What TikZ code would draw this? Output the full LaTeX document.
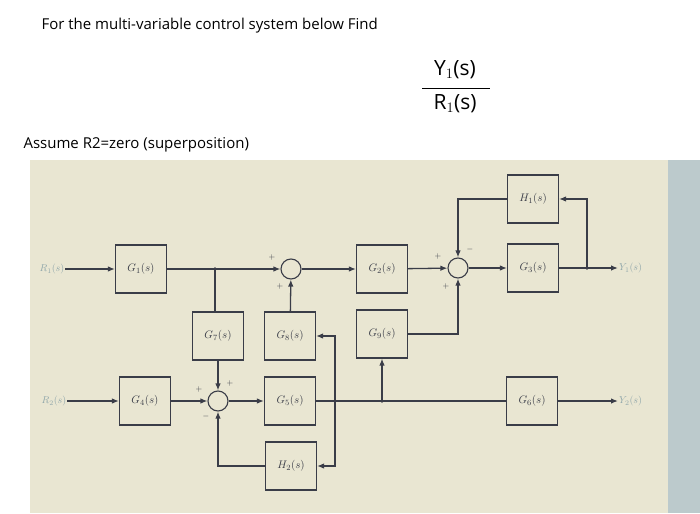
\documentclass[tikz,border=0pt]{standalone}
\usepackage{fontspec}
\setmainfont{Latin Modern Roman}
\newfontfamily\sans{Open Sans}
\usetikzlibrary{arrows.meta}
\definecolor{panel}{HTML}{E9E6D2}
\definecolor{ink}{HTML}{3A3D48}
\definecolor{lab}{HTML}{8FA6AA}
\begin{document}
\begin{tikzpicture}[x=1pt,y=-1pt,
  blk/.style={draw=ink,line width=1.1pt,minimum width=51pt,minimum height=48pt,inner sep=0pt,font=\fontsize{11}{12}\selectfont,text=ink},
  sm/.style={draw=ink,line width=1.1pt,circle,minimum size=20pt,inner sep=0pt},
  ln/.style={draw=ink,line width=1.3pt},
  ar/.style={ln,-{Latex[length=7pt,width=5.5pt]}},
  sg/.style={font=\footnotesize,text=ink,inner sep=1pt},
  io/.style={font=\fontsize{10}{11}\selectfont,text=lab,inner sep=1pt}]
\useasboundingbox (0,0) rectangle (700,513);
\fill[white] (0,0) rectangle (700,513);
\fill[panel] (30,160) rectangle (668,513);
\fill[lab!60] (668,160) rectangle (700,513);
\node[anchor=west,font=\sans\fontsize{15}{17}\selectfont] (t1) at (38,26) {For the multi-variable control system below Find};
\node[font=\sans\fontsize{21}{23}\selectfont] (num) at (455,70) {Y$_1$(s)};
\node[font=\sans\fontsize{21}{23}\selectfont] (den) at (455,104) {R$_1$(s)};
\draw[line width=0.7pt] (422,88) -- (490,88);
\node[anchor=west,font=\sans\fontsize{15}{17}\selectfont] (t2) at (20,145) {Assume R2=zero (superposition)};

\node[blk] (G1) at (141,269) {$G_1(s)$};
\node[sm] (S1) at (291,269) {};
\node[blk] (G2) at (382,269) {$G_2(s)$};
\node[sm] (S2) at (458,268) {};
\node[blk] (G3) at (533,268) {$G_3(s)$};
\node[blk] (H1) at (533,199) {$H_1(s)$};
\node[blk] (G7) at (218,336) {$G_7(s)$};
\node[blk] (G8) at (290,336) {$G_8(s)$};
\node[blk] (G9) at (382,334) {$G_9(s)$};
\node[blk] (G4) at (145,401) {$G_4(s)$};
\node[sm] (S3) at (218,401) {};
\node[blk] (G5) at (290,401) {$G_5(s)$};
\node[blk] (H2) at (291,466) {$H_2(s)$};
\node[blk] (G6) at (532,401) {$G_6(s)$};

\node[io] (R1) at (52,269) {$R_1(s)$};
\node[io] (R2) at (54,401) {$R_2(s)$};
\node[io,anchor=west] (Y1) at (618,268) {$Y_1(s)$};
\node[io,anchor=west] (Y2) at (618,401) {$Y_2(s)$};

\coordinate (b1) at (215,269);
\coordinate (b2) at (335,401);
\coordinate (b3) at (382,401);
\coordinate (b4) at (587,268);

\draw[ar] (R1) -- (G1);
\draw[ar] (G1) -- (S1);
\draw[ar] (S1) -- (G2);
\draw[ar] (G2) -- (S2);
\draw[ar] (S2) -- (G3);
\draw[ar] (G3) -- (Y1);
\draw[ar] (b4) |- (H1);
\draw[ar] (H1) -| (S2);
\draw[ar] (G9) -| (S2);
\draw[ln] (b1) -- (b1 |- G7.north);
\draw[ar] (G7) -- (S3);
\draw[ar] (G8) -- (S1);
\draw[ar] (R2) -- (G4);
\draw[ar] (G4) -- (S3);
\draw[ar] (S3) -- (G5);
\draw[ln] (G5) -- (G6);
\draw[ar] (G6) -- (Y2);
\draw[ar] (b2) |- (G8);
\draw[ar] (b2) |- (H2);
\draw[ar] (H2) -| (S3);
\draw[ar] (b3) -- (G9);
\fill[ink] (b1) circle (1.8pt) (b2) circle (1.8pt) (b3) circle (1.8pt) (b4) circle (1.8pt);

\node[sg] (p1) at (272,257) {+};
\node[sg] (p2) at (280,286) {+};
\node[sg] (p3) at (438,256) {+};
\node[sg] (m1) at (470,249) {$-$};
\node[sg] (p4) at (446,286) {+};
\node[sg] (p5) at (199,389) {+};
\node[sg] (p6) at (230,383) {+};
\node[sg] (m2) at (206,416) {$-$};
\end{tikzpicture}
\end{document}
